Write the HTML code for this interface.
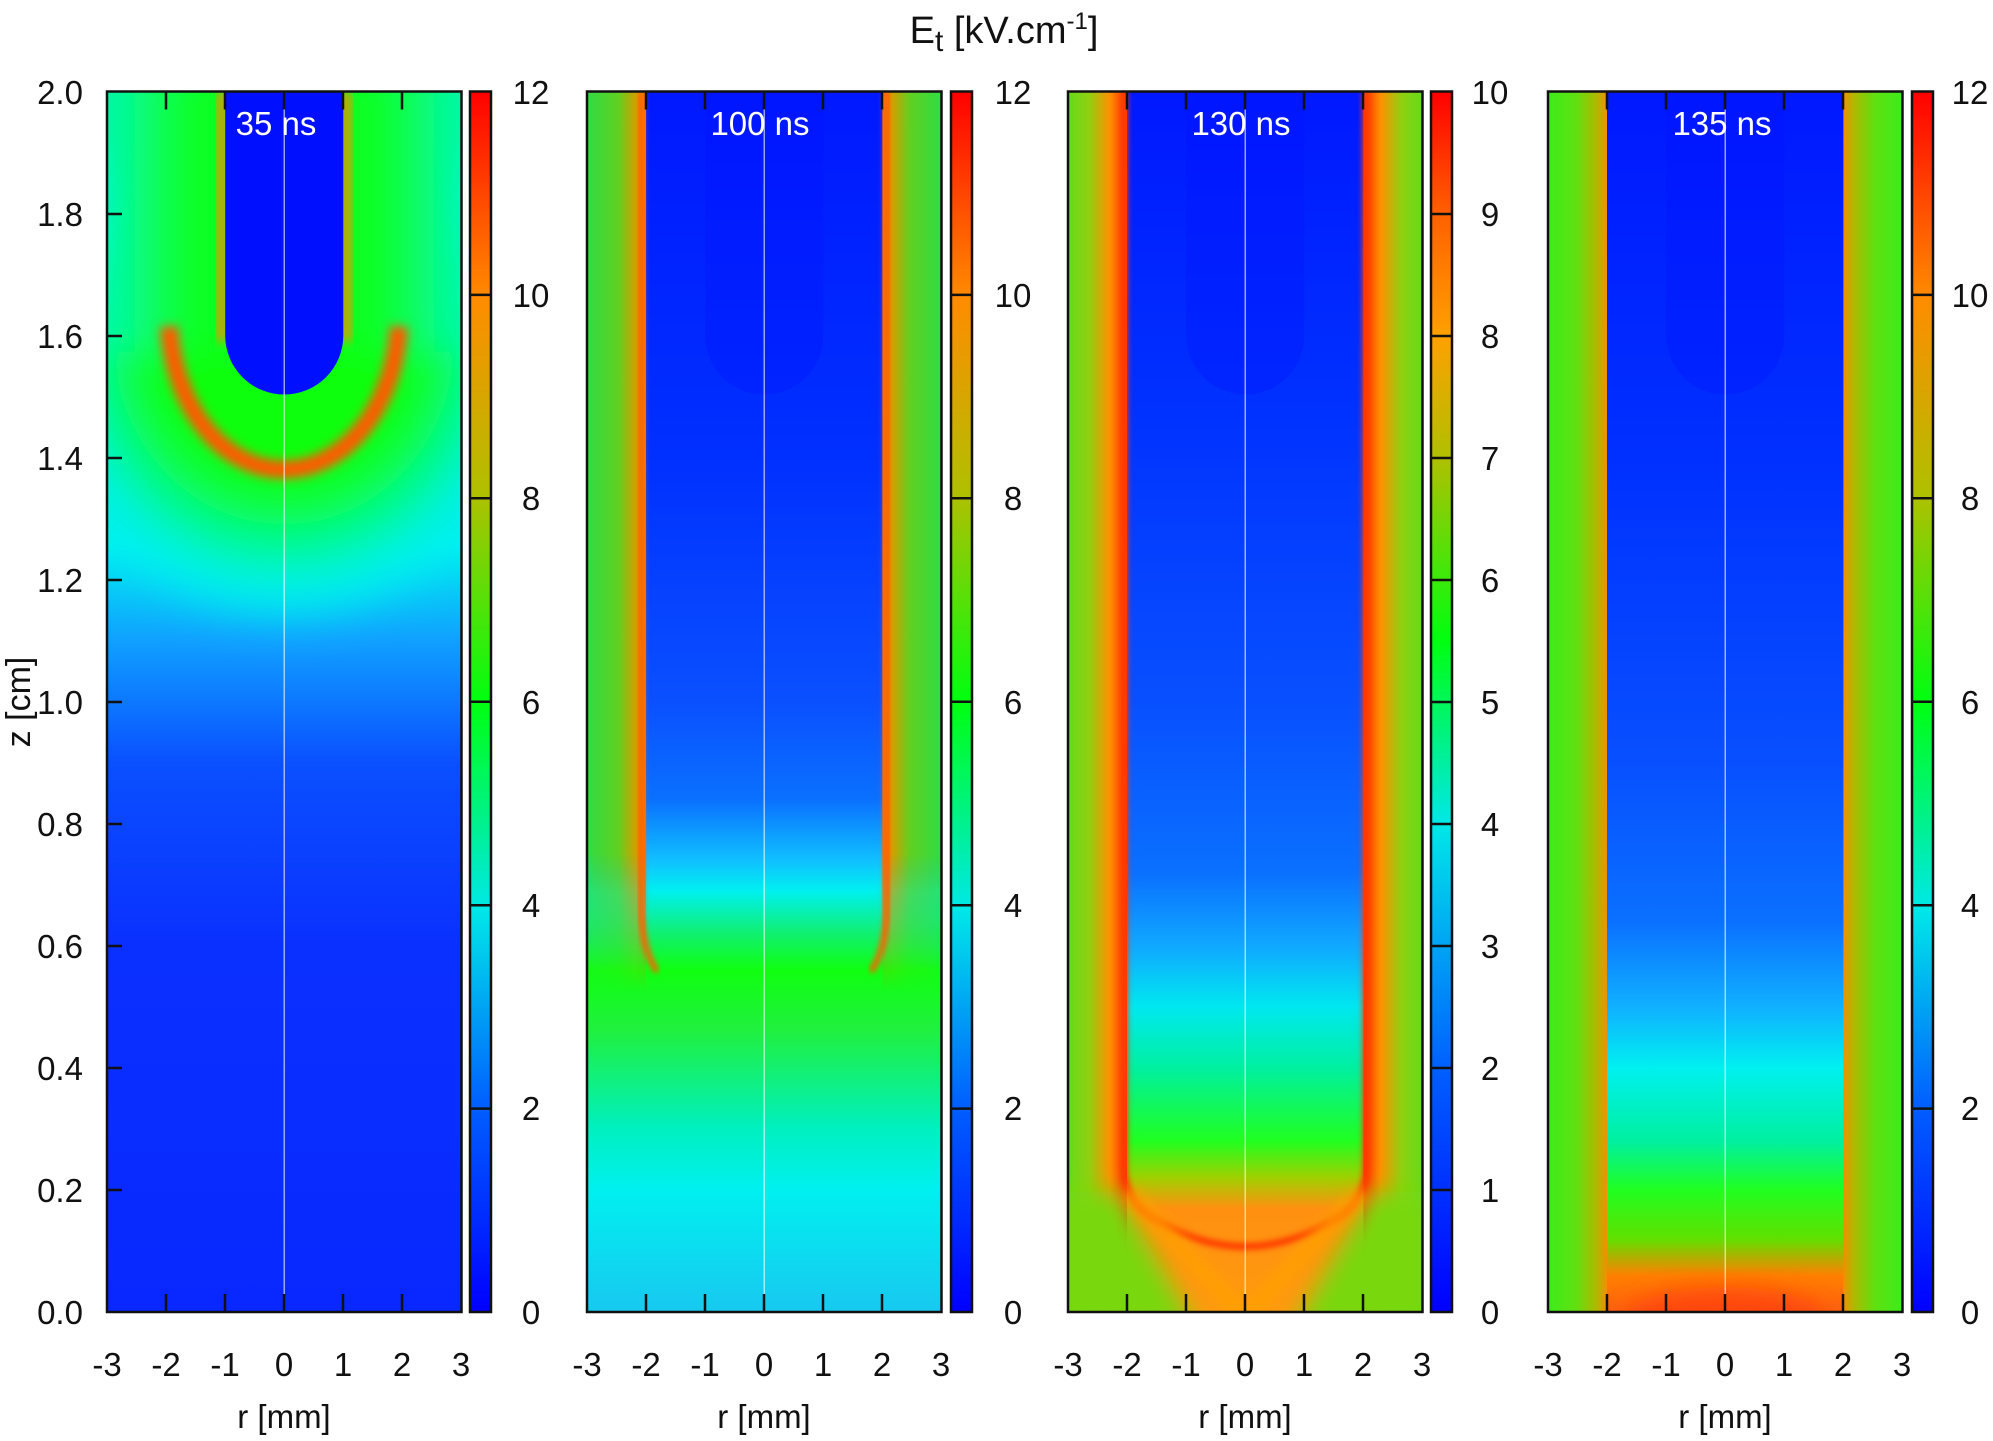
<!DOCTYPE html>
<html><head><meta charset="utf-8"><style>
html,body{margin:0;padding:0;background:#fff}
svg{display:block}
text{font-family:"Liberation Sans",sans-serif;fill:#111}
</style></head><body>
<svg width="1993" height="1441" viewBox="0 0 1993 1441" xmlns="http://www.w3.org/2000/svg">
<defs>
<filter id="b3" x="-20%" y="-20%" width="140%" height="140%"><feGaussianBlur stdDeviation="3"/></filter>
<filter id="b5" x="-20%" y="-20%" width="140%" height="140%"><feGaussianBlur stdDeviation="5"/></filter>
<filter id="b6" x="-20%" y="-20%" width="140%" height="140%"><feGaussianBlur stdDeviation="6"/></filter>
<filter id="b12" x="-30%" y="-30%" width="160%" height="160%"><feGaussianBlur stdDeviation="12"/></filter>
<filter id="b18" x="-30%" y="-30%" width="160%" height="160%"><feGaussianBlur stdDeviation="18"/></filter>
<clipPath id="pc"><rect x="0" y="0" width="354.5" height="1220.5"/></clipPath>
<linearGradient id="cb" x1="0" y1="1" x2="0" y2="0">
<stop offset="0" stop-color="#0000ff"/><stop offset="0.17" stop-color="#0060ff"/>
<stop offset="0.33" stop-color="#00e8e8"/><stop offset="0.5" stop-color="#00ff10"/>
<stop offset="0.67" stop-color="#b0c000"/><stop offset="0.83" stop-color="#ff8c00"/>
<stop offset="1" stop-color="#ff0000"/></linearGradient>
<linearGradient id="cb3" x1="0" y1="1" x2="0" y2="0">
<stop offset="0" stop-color="#0000ff"/><stop offset="0.2" stop-color="#0060ff"/>
<stop offset="0.4" stop-color="#00e8e8"/><stop offset="0.55" stop-color="#00ff10"/>
<stop offset="0.7" stop-color="#b0c000"/><stop offset="0.8" stop-color="#ffa000"/>
<stop offset="0.9" stop-color="#ff6000"/><stop offset="1" stop-color="#ff0000"/></linearGradient>
<linearGradient id="p1bg" x1="0" y1="0" x2="0" y2="1">
<stop offset="0" stop-color="#10f0a0"/><stop offset="0.3" stop-color="#00f0c0"/>
<stop offset="0.37" stop-color="#00f0f0"/><stop offset="0.45" stop-color="#10a0ff"/>
<stop offset="0.55" stop-color="#0a50ff"/><stop offset="0.7" stop-color="#0a30ff"/>
<stop offset="1" stop-color="#0828ff"/></linearGradient>
<radialGradient id="p1halo" cx="0.5" cy="0.5" r="0.5">
<stop offset="0" stop-color="#10ff10"/><stop offset="0.5" stop-color="#10ff10"/>
<stop offset="0.72" stop-color="#00f8a0"/><stop offset="0.86" stop-color="#00f0f0"/>
<stop offset="1" stop-color="#00f0f0" stop-opacity="0"/></radialGradient>
<linearGradient id="p1top" x1="0" y1="0" x2="1" y2="0">
<stop offset="0" stop-color="#00f8c0"/><stop offset="0.25" stop-color="#10ff20"/>
<stop offset="0.75" stop-color="#10ff20"/><stop offset="1" stop-color="#00f8c0"/></linearGradient>
<linearGradient id="p2bg" x1="0" y1="0" x2="0" y2="1">
<stop offset="0" stop-color="#0018ff"/><stop offset="0.3" stop-color="#0030ff"/>
<stop offset="0.5" stop-color="#0a50ff"/><stop offset="0.58" stop-color="#0a70ff"/>
<stop offset="0.63" stop-color="#10c0ff"/><stop offset="0.655" stop-color="#00f0f0"/>
<stop offset="0.69" stop-color="#10f070"/><stop offset="0.72" stop-color="#10ff10"/>
<stop offset="0.77" stop-color="#20f040"/><stop offset="0.85" stop-color="#00f0c0"/>
<stop offset="0.9" stop-color="#00f0f0"/><stop offset="1" stop-color="#18c8f0"/></linearGradient>
<linearGradient id="p2sideL" x1="0" y1="0" x2="1" y2="0">
<stop offset="0" stop-color="#20e050"/><stop offset="0.6" stop-color="#60d020"/>
<stop offset="0.85" stop-color="#d0a000"/><stop offset="1" stop-color="#ff7000"/></linearGradient>
<linearGradient id="p2sideR" x1="1" y1="0" x2="0" y2="0">
<stop offset="0" stop-color="#20e050"/><stop offset="0.6" stop-color="#60d020"/>
<stop offset="0.85" stop-color="#d0a000"/><stop offset="1" stop-color="#ff7000"/></linearGradient>
<linearGradient id="fadeV" x1="0" y1="0" x2="0" y2="1">
<stop offset="0" stop-color="#fff"/><stop offset="0.85" stop-color="#fff"/><stop offset="1" stop-color="#fff" stop-opacity="0"/></linearGradient>
<mask id="m2"><rect x="-20" y="-20" width="400" height="920" fill="url(#fadeV)"/></mask>
<linearGradient id="p3bg" x1="0" y1="0" x2="0" y2="1">
<stop offset="0" stop-color="#0018ff"/><stop offset="0.25" stop-color="#0030ff"/>
<stop offset="0.5" stop-color="#0850ff"/><stop offset="0.64" stop-color="#0a70ff"/>
<stop offset="0.7" stop-color="#10a8ff"/><stop offset="0.75" stop-color="#00e8f0"/>
<stop offset="0.8" stop-color="#00f0a0"/><stop offset="0.86" stop-color="#20ff20"/>
<stop offset="0.89" stop-color="#a0d000"/><stop offset="0.915" stop-color="#ff9010"/>
<stop offset="1" stop-color="#ff9a10"/></linearGradient>
<linearGradient id="p3sideL" x1="0" y1="0" x2="1" y2="0">
<stop offset="0" stop-color="#50e020"/><stop offset="0.45" stop-color="#90d010"/>
<stop offset="0.75" stop-color="#ff9000"/><stop offset="1" stop-color="#ff3000"/></linearGradient>
<linearGradient id="p3sideR" x1="1" y1="0" x2="0" y2="0">
<stop offset="0" stop-color="#50e020"/><stop offset="0.45" stop-color="#90d010"/>
<stop offset="0.75" stop-color="#ff9000"/><stop offset="1" stop-color="#ff3000"/></linearGradient>
<linearGradient id="p4bg" x1="0" y1="0" x2="0" y2="1">
<stop offset="0" stop-color="#0018ff"/><stop offset="0.3" stop-color="#0030ff"/>
<stop offset="0.55" stop-color="#0850ff"/><stop offset="0.68" stop-color="#0a70ff"/>
<stop offset="0.75" stop-color="#10b0ff"/><stop offset="0.8" stop-color="#00f0f0"/>
<stop offset="0.86" stop-color="#00f0a0"/><stop offset="0.9" stop-color="#20ff20"/>
<stop offset="0.94" stop-color="#60e000"/><stop offset="0.97" stop-color="#ff8000"/>
<stop offset="1" stop-color="#ff6010"/></linearGradient>
<linearGradient id="p4sideL" x1="0" y1="0" x2="1" y2="0">
<stop offset="0" stop-color="#30f020"/><stop offset="0.55" stop-color="#60e010"/>
<stop offset="0.85" stop-color="#b0b800"/><stop offset="1" stop-color="#f09000"/></linearGradient>
<linearGradient id="p4sideR" x1="1" y1="0" x2="0" y2="0">
<stop offset="0" stop-color="#30f020"/><stop offset="0.55" stop-color="#60e010"/>
<stop offset="0.85" stop-color="#b0b800"/><stop offset="1" stop-color="#f09000"/></linearGradient>
</defs>

<text x="1004" y="43" font-size="38" text-anchor="middle">E<tspan font-size="30" dy="8">t</tspan><tspan dy="-8"> [kV.cm</tspan><tspan font-size="24" dy="-14">-1</tspan><tspan dy="14">]</tspan></text>
<text transform="translate(30,702) rotate(-90)" font-size="34" text-anchor="middle">z [cm]</text>

<!-- PANEL 1 -->
<g transform="translate(107,91.5)">
<g clip-path="url(#pc)">
<rect width="354.5" height="1220.5" fill="url(#p1bg)"/>
<g filter="url(#b18)">
<ellipse cx="177.25" cy="250" rx="270" ry="290" fill="url(#p1halo)"/>
<rect x="-10" y="-30" width="375" height="290" fill="url(#p1top)"/>
</g>
<rect x="110" y="0" width="10" height="250" fill="#f09000" filter="url(#b5)"/>
<rect x="234" y="0" width="10" height="250" fill="#f09000" filter="url(#b5)"/>
<path d="M62,235 C68,320 118,378 177,378 C236,378 286,320 292,235" fill="none" stroke="#ff5a00" stroke-width="18" filter="url(#b5)"/>
<path d="M118.2,0 V244 A59.05,59.05 0 0 0 236.3,244 V0 Z" fill="#0010ff"/>
<line x1="177.25" y1="0" x2="177.25" y2="1220" stroke="#ffffff" stroke-opacity="0.6" stroke-width="1.5"/>
</g>
</g>

<!-- PANEL 2 -->
<g transform="translate(587,91.5)">
<g clip-path="url(#pc)">
<rect width="354.5" height="1220.5" fill="url(#p2bg)"/>
<g mask="url(#m2)">
<rect x="-10" y="-10" width="69" height="920" fill="url(#p2sideL)"/>
<rect x="295.4" y="-10" width="69" height="920" fill="url(#p2sideR)"/>
</g>
<path d="M54,0 V820 Q56,860 70,880" fill="none" stroke="#ff6000" stroke-width="6" filter="url(#b3)"/>
<path d="M300,0 V820 Q298,860 284,880" fill="none" stroke="#ff6000" stroke-width="6" filter="url(#b3)"/>
<path d="M118.2,0 V244 A59.05,59.05 0 0 0 236.3,244 V0 Z" fill="#0010ff" opacity="0.3"/>
<line x1="177.25" y1="0" x2="177.25" y2="1220" stroke="#ffffff" stroke-opacity="0.6" stroke-width="1.5"/>
</g>
</g>

<!-- PANEL 3 -->
<g transform="translate(1068,91.5)">
<g clip-path="url(#pc)">
<rect width="354.5" height="1220.5" fill="url(#p3bg)"/>
<rect x="-10" y="-10" width="69" height="1240" fill="url(#p3sideL)"/>
<rect x="295.4" y="-10" width="69" height="1240" fill="url(#p3sideR)"/>
<g filter="url(#b12)">
<path d="M-10,1100 L50,1100 L130,1240 L-10,1240 Z" fill="#78d810"/>
<path d="M364,1100 L304,1100 L224,1240 L364,1240 Z" fill="#78d810"/>
</g>
<path d="M56,0 V1080 Q58,1110 90,1130 Q177,1180 264,1130 Q296,1110 298,1080 V0" fill="none" stroke="#ff3a00" stroke-width="7" filter="url(#b3)"/>
<path d="M60,1100 L177,1225 L294,1100" fill="none" stroke="#ffa000" stroke-width="18" filter="url(#b6)" opacity="0.8"/>
<path d="M118.2,0 V244 A59.05,59.05 0 0 0 236.3,244 V0 Z" fill="#0010ff" opacity="0.3"/>
<line x1="177.25" y1="0" x2="177.25" y2="1220" stroke="#ffffff" stroke-opacity="0.6" stroke-width="1.5"/>
</g>
</g>

<!-- PANEL 4 -->
<g transform="translate(1548,91.5)">
<g clip-path="url(#pc)">
<rect width="354.5" height="1220.5" fill="url(#p4bg)"/>
<rect x="-10" y="-10" width="69" height="1240" fill="url(#p4sideL)"/>
<rect x="295.4" y="-10" width="69" height="1240" fill="url(#p4sideR)"/>
<ellipse cx="177" cy="1228" rx="100" ry="32" fill="#ff4010" filter="url(#b12)" opacity="0.8"/>
<path d="M118.2,0 V244 A59.05,59.05 0 0 0 236.3,244 V0 Z" fill="#0010ff" opacity="0.3"/>
<line x1="177.25" y1="0" x2="177.25" y2="1220" stroke="#ffffff" stroke-opacity="0.6" stroke-width="1.5"/>
</g>
</g>

<g fill="none" stroke="#111" stroke-width="2.5">
<rect x="107" y="91.5" width="354.5" height="1220.5"/>
<rect x="587" y="91.5" width="354.5" height="1220.5"/>
<rect x="1068" y="91.5" width="354.5" height="1220.5"/>
<rect x="1548" y="91.5" width="354.5" height="1220.5"/>
<path d="M166,1312v-18M225,1312v-18M284,1312v-18M343,1312v-18M402,1312v-18 M166,91.5v18M225,91.5v18M284,91.5v18M343,91.5v18M402,91.5v18"/>
<path d="M646,1312v-18M705,1312v-18M764,1312v-18M823,1312v-18M882,1312v-18 M646,91.5v18M705,91.5v18M764,91.5v18M823,91.5v18M882,91.5v18"/>
<path d="M1127,1312v-18M1186,1312v-18M1245,1312v-18M1304,1312v-18M1363,1312v-18 M1127,91.5v18M1186,91.5v18M1245,91.5v18M1304,91.5v18M1363,91.5v18"/>
<path d="M1607,1312v-18M1666,1312v-18M1725,1312v-18M1784,1312v-18M1843,1312v-18 M1607,91.5v18M1666,91.5v18M1725,91.5v18M1784,91.5v18M1843,91.5v18"/>
<path d="M107,1190h15M107,1068h15M107,946h15M107,824h15M107,702h15M107,580h15M107,458h15M107,336h15M107,214h15"/>
</g>

<rect x="470" y="91.5" width="21" height="1220.5" fill="url(#cb)" stroke="#111" stroke-width="2.5"/>
<rect x="951" y="91.5" width="21" height="1220.5" fill="url(#cb)" stroke="#111" stroke-width="2.5"/>
<rect x="1431" y="91.5" width="21" height="1220.5" fill="url(#cb3)" stroke="#111" stroke-width="2.5"/>
<rect x="1912" y="91.5" width="21" height="1220.5" fill="url(#cb)" stroke="#111" stroke-width="2.5"/>
<g stroke="#111" stroke-width="2.5">
<path d="M470,1108.6h21M470,905.2h21M470,701.8h21M470,498.3h21M470,294.9h21"/>
<path d="M951,1108.6h21M951,905.2h21M951,701.8h21M951,498.3h21M951,294.9h21"/>
<path d="M1912,1108.6h21M1912,905.2h21M1912,701.8h21M1912,498.3h21M1912,294.9h21"/>
<path d="M1431,1190h21M1431,1068h21M1431,946h21M1431,824h21M1431,702h21M1431,580h21M1431,458h21M1431,336h21M1431,214h21"/>
</g>

<g font-size="33" text-anchor="middle">
<text x="60" y="104">2.0</text><text x="60" y="226">1.8</text><text x="60" y="348">1.6</text>
<text x="60" y="470">1.4</text><text x="60" y="592">1.2</text><text x="60" y="714">1.0</text>
<text x="60" y="836">0.8</text><text x="60" y="958">0.6</text><text x="60" y="1080">0.4</text>
<text x="60" y="1202">0.2</text><text x="60" y="1324">0.0</text>
</g>
<g font-size="33" text-anchor="middle">
<text x="531" y="104">12</text><text x="531" y="307">10</text><text x="531" y="510">8</text><text x="531" y="714">6</text><text x="531" y="917">4</text><text x="531" y="1120">2</text><text x="531" y="1324">0</text>
<text x="1013" y="104">12</text><text x="1013" y="307">10</text><text x="1013" y="510">8</text><text x="1013" y="714">6</text><text x="1013" y="917">4</text><text x="1013" y="1120">2</text><text x="1013" y="1324">0</text>
<text x="1970" y="104">12</text><text x="1970" y="307">10</text><text x="1970" y="510">8</text><text x="1970" y="714">6</text><text x="1970" y="917">4</text><text x="1970" y="1120">2</text><text x="1970" y="1324">0</text>
<text x="1490" y="104">10</text><text x="1490" y="226">9</text><text x="1490" y="348">8</text><text x="1490" y="470">7</text><text x="1490" y="592">6</text><text x="1490" y="714">5</text><text x="1490" y="836">4</text><text x="1490" y="958">3</text><text x="1490" y="1080">2</text><text x="1490" y="1202">1</text><text x="1490" y="1324">0</text>
</g>
<g font-size="33" text-anchor="middle">
<text x="107" y="1376">-3</text><text x="166" y="1376">-2</text><text x="225" y="1376">-1</text><text x="284" y="1376">0</text><text x="343" y="1376">1</text><text x="402" y="1376">2</text><text x="461" y="1376">3</text>
<text x="587" y="1376">-3</text><text x="646" y="1376">-2</text><text x="705" y="1376">-1</text><text x="764" y="1376">0</text><text x="823" y="1376">1</text><text x="882" y="1376">2</text><text x="941" y="1376">3</text>
<text x="1068" y="1376">-3</text><text x="1127" y="1376">-2</text><text x="1186" y="1376">-1</text><text x="1245" y="1376">0</text><text x="1304" y="1376">1</text><text x="1363" y="1376">2</text><text x="1422" y="1376">3</text>
<text x="1548" y="1376">-3</text><text x="1607" y="1376">-2</text><text x="1666" y="1376">-1</text><text x="1725" y="1376">0</text><text x="1784" y="1376">1</text><text x="1843" y="1376">2</text><text x="1902" y="1376">3</text>
<text x="284" y="1428">r [mm]</text><text x="764" y="1428">r [mm]</text><text x="1245" y="1428">r [mm]</text><text x="1725" y="1428">r [mm]</text>
</g>
<g font-size="33" text-anchor="middle">
<text x="276" y="135" style="fill:#fff">35 ns</text>
<text x="760" y="135" style="fill:#fff">100 ns</text>
<text x="1241" y="135" style="fill:#fff">130 ns</text>
<text x="1722" y="135" style="fill:#fff">135 ns</text>
</g>
</svg>
</body></html>
